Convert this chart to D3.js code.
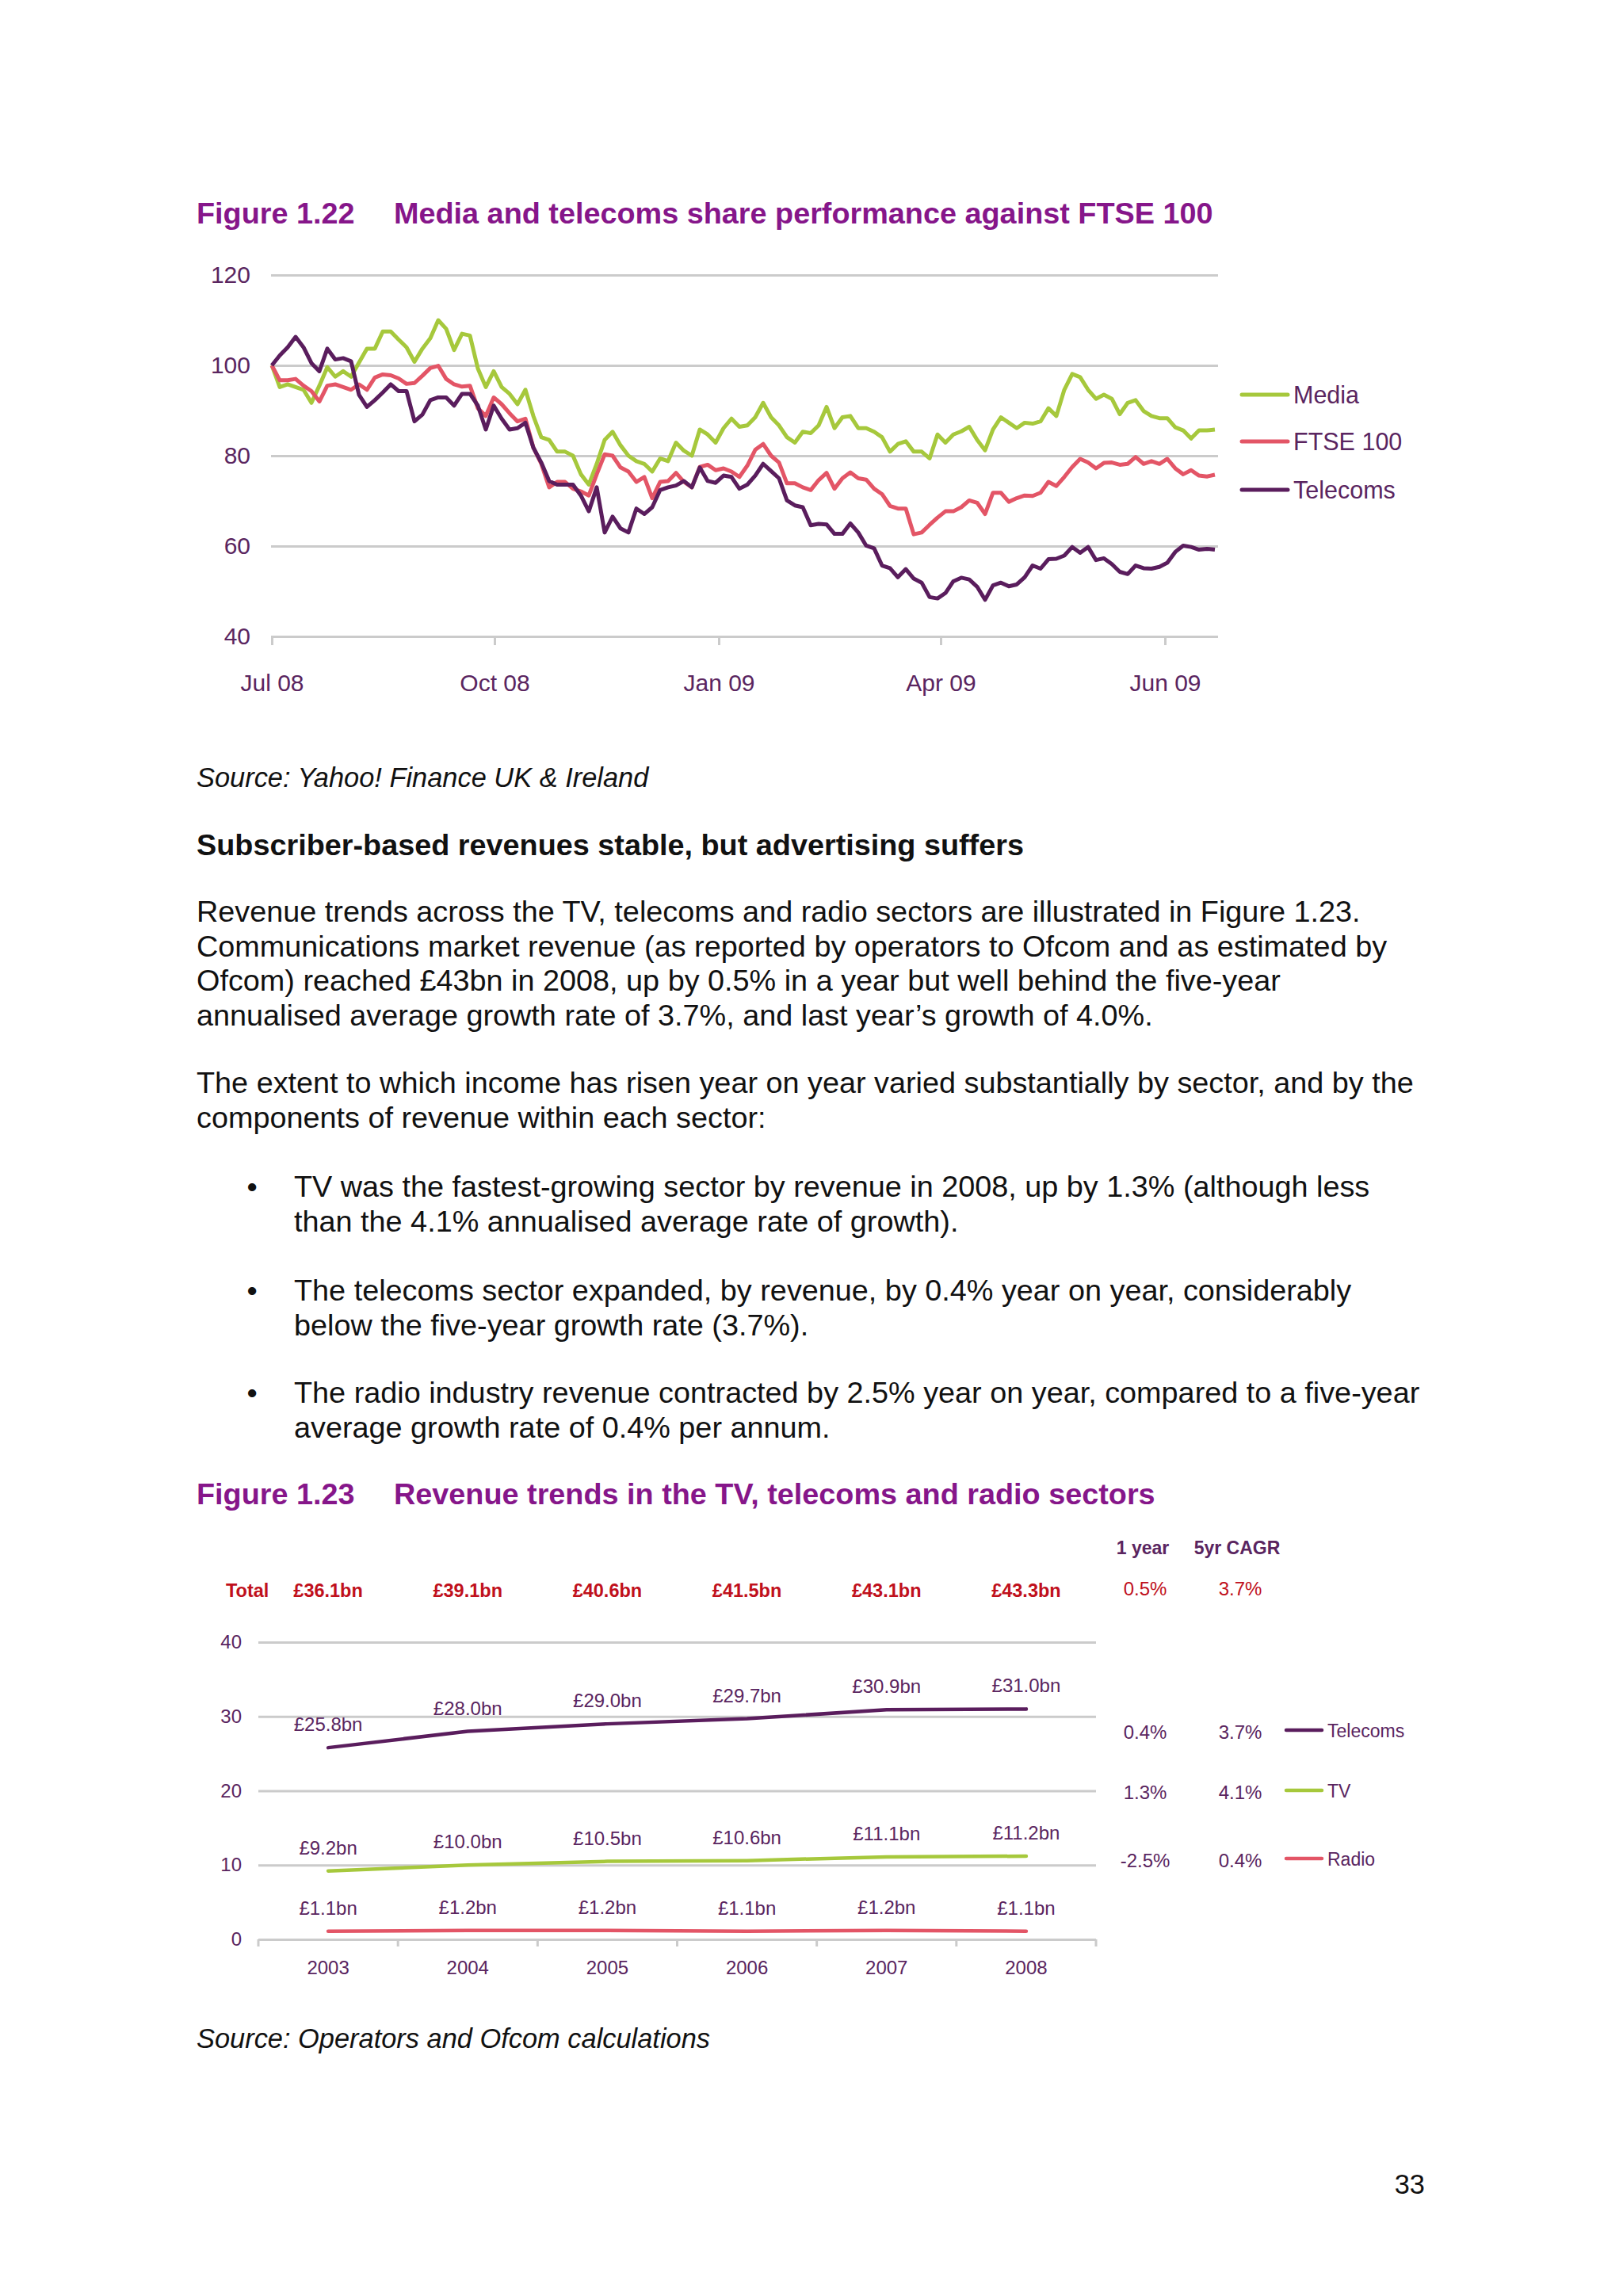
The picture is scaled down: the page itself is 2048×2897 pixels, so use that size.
<!DOCTYPE html>
<html>
<head>
<meta charset="utf-8">
<script src="https://cdn.jsdelivr.net/npm/d3@7"></script>
<style>
    body { margin: 0; background: #ffffff; }
    svg { display: block; font-family: Arial, "Liberation Sans", sans-serif; }
</style>
</head>
<body>
<div id="page"></div>
<script>
// ---- Figure 1.22 : share index, sampled points from Jul 08 to end Jun 09
var shareTickLabels = ["Jul 08", "Oct 08", "Jan 09", "Apr 09", "Jun 09"];
var shareTickAt = [0, 28.1, 56.4, 84.4, 112.7];
var shareYTicks = [40, 60, 80, 100, 120];

var media = [100, 95.2, 95.8, 95.2, 94.6, 91.7, 95.5, 99.6, 97.5, 98.7, 97.5, 100.6, 103.7, 103.7, 107.5, 107.5, 105.7, 104.0, 100.8, 103.7, 106.0, 110.0, 108.1, 103.4, 107.0, 106.6, 99.3, 95.2, 98.7, 95.2,
    93.7, 91.4, 94.6, 88.8, 84.1, 83.5, 80.9, 80.9, 80.0, 75.9, 73.6, 78.2, 83.5, 85.3, 82.3, 80.0, 78.8, 78.2, 76.5, 79.4, 78.8, 82.9, 81.1, 80.0, 85.8, 84.7, 82.9, 86.1, 88.2, 86.4,
    86.7, 88.5, 91.7, 88.5, 86.7, 84.1, 82.9, 85.3, 85.0, 86.7, 90.8, 86.1, 88.5, 88.8, 86.1, 86.1, 85.3, 84.1, 80.9, 82.6, 83.2, 80.9, 80.9, 79.4, 84.7, 82.9, 84.7, 85.4, 86.4, 83.5,
    81.2, 85.8, 88.5, 87.3, 86.1, 87.3, 87.1, 87.6, 90.5, 88.8, 94.6, 98.1, 97.4, 94.6, 92.6, 93.5, 92.6, 89.2, 91.7, 92.3, 89.9, 88.8, 88.3, 88.3, 86.3, 85.6, 83.8, 85.6, 85.6, 85.8];

var ftse = [100, 96.7, 96.7, 97.0, 95.5, 94.3, 92.0, 95.5, 95.8, 95.2, 94.6, 95.8, 94.6, 97.3, 98.0, 97.8, 97.1, 95.9, 96.1, 97.7, 99.4, 99.9, 97.0, 95.8, 95.3, 95.5, 90.5, 88.8, 92.9, 91.4,
    89.4, 87.6, 88.2, 81.8, 78.2, 73.0, 74.2, 74.2, 72.7, 72.1, 71.2, 75.9, 80.3, 80.0, 77.4, 76.5, 74.2, 75.3, 70.6, 74.2, 74.4, 76.2, 74.2, 73.0, 77.5, 78.0, 76.8, 77.2, 76.5, 75.3,
    77.8, 81.3, 82.6, 80.0, 78.5, 73.9, 73.9, 73.0, 72.4, 74.6, 76.2, 72.7, 75.0, 76.3, 75.0, 74.7, 72.7, 71.5, 68.9, 68.3, 68.3, 62.6, 63.0, 64.7, 66.3, 67.7, 67.7, 68.6, 70.1, 69.6,
    67.1, 71.8, 71.8, 69.8, 70.6, 71.2, 71.1, 71.8, 74.2, 73.3, 75.3, 77.5, 79.3, 78.5, 77.2, 78.4, 78.5, 78.0, 78.2, 79.7, 78.2, 78.8, 78.2, 79.3, 77.2, 75.9, 76.8, 75.6, 75.4, 75.8];

var telecoms = [100, 102.2, 104.0, 106.3, 104.0, 100.5, 98.7, 103.7, 101.3, 101.6, 100.9, 93.5, 90.8, 92.3, 94.0, 95.8, 94.3, 94.3, 87.6, 89.1, 92.3, 92.9, 92.9, 91.1, 93.7, 93.7, 91.1, 85.8, 91.1, 88.2,
    85.8, 86.1, 87.3, 81.8, 78.5, 74.4, 73.6, 73.6, 73.6, 71.2, 67.7, 73.0, 63.0, 66.5, 63.9, 63.0, 68.3, 67.1, 68.6, 72.4, 73.0, 73.4, 74.4, 73.0, 77.4, 74.4, 74.0, 75.6, 75.3, 72.7,
    73.6, 75.6, 78.2, 76.6, 75.0, 70.1, 69.0, 68.6, 64.6, 64.9, 64.8, 62.7, 62.7, 65.0, 63.0, 60.1, 59.5, 55.7, 55.1, 53.1, 54.9, 52.8, 51.9, 48.7, 48.4, 49.6, 52.2, 53.0, 52.6, 51.0,
    48.1, 51.3, 51.9, 51.1, 51.5, 53.1, 55.7, 55.0, 57.1, 57.2, 57.9, 59.8, 58.5, 59.8, 56.9, 57.3, 56.0, 54.3, 53.8, 55.7, 55.1, 55.0, 55.4, 56.3, 58.7, 60.1, 59.8, 59.2, 59.4, 59.2];

var shareSeries = ["Media", "FTSE 100", "Telecoms"];

// ---- Figure 1.23 : revenue, £bn
var years = ["2003", "2004", "2005", "2006", "2007", "2008"];
var revTelecoms = [25.8, 28.0, 29.0, 29.7, 30.9, 31.0];
var revTV = [9.2, 10.0, 10.5, 10.6, 11.1, 11.2];
var revRadio = [1.1, 1.2, 1.2, 1.1, 1.2, 1.1];
var revTotal = [36.1, 39.1, 40.6, 41.5, 43.1, 43.3];
var revYTicks = [0, 10, 20, 30, 40];
var growthNames = ["Total", "Telecoms", "TV", "Radio"];
var growth1yr = [0.5, 0.4, 1.3, -2.5];
var growthCagr = [3.7, 3.7, 4.1, 0.4];

// ---- body text
var heading = "Subscriber-based revenues stable, but advertising suffers";
var para1 = ["Revenue trends across the TV, telecoms and radio sectors are illustrated in Figure 1.23.",
    "Communications market revenue (as reported by operators to Ofcom and as estimated by",
    "Ofcom) reached £43bn in 2008, up by 0.5% in a year but well behind the five-year",
    "annualised average growth rate of 3.7%, and last year\u2019s growth of 4.0%."];
var para2 = ["The extent to which income has risen year on year varied substantially by sector, and by the",
    "components of revenue within each sector:"];
var bullets = [
    ["TV was the fastest-growing sector by revenue in 2008, up by 1.3% (although less",
        "than the 4.1% annualised average rate of growth)."],
    ["The telecoms sector expanded, by revenue, by 0.4% year on year, considerably",
        "below the five-year growth rate (3.7%)."],
    ["The radio industry revenue contracted by 2.5% year on year, compared to a five-year",
        "average growth rate of 0.4% per annum."]];

var TITLE = "#86168a", AXIS_TXT = "#5a2560", GRID = "#cbcbcb", RED = "#c0101c";
var GREEN = "#a6c83c", PINK = "#e35566", PLUM = "#5a1d5d";

var W = 2048, H = 2897;
var svg = d3.select("#page").append("svg").attr("width", W).attr("height", H)
    .attr("viewBox", "0 0 " + W + " " + H);
svg.append("rect").attr("width", W).attr("height", H).attr("fill", "#ffffff");

function txt(x, y, s, size, opts) {
    opts = opts || {};
    return svg.append("text").attr("x", x).attr("y", y).text(s)
        .attr("font-size", size)
        .attr("font-weight", opts.bold ? "bold" : null)
        .attr("font-style", opts.italic ? "italic" : null)
        .attr("text-anchor", opts.anchor || "start")
        .attr("fill", opts.fill || "#111111");
}

// =============== Figure 1.22 ===============
txt(248, 282, "Figure 1.22", 37.8, { bold: true, fill: TITLE });
txt(497, 282, "Media and telecoms share performance against FTSE 100", 37.8, { bold: true, fill: TITLE });

var sx = d3.scaleLinear().domain([0, media.length - 1]).range([343, 1533]);
var sy = d3.scaleLinear().domain([40, 120]).range([803, 347]);
var gridL = 342, gridR = 1537;

var yAx = svg.append("g").attr("transform", "translate(" + gridL + ",0)")
    .call(d3.axisLeft(sy).tickValues(shareYTicks).tickSize(-(gridR - gridL)).tickPadding(26));
yAx.select(".domain").remove();
yAx.selectAll("line").attr("stroke", GRID).attr("stroke-width", 3);
yAx.selectAll("text").attr("font-size", 30).attr("fill", AXIS_TXT).attr("font-family", null);

var xAx = svg.append("g").attr("transform", "translate(0," + sy(40) + ")")
    .call(d3.axisBottom(sx).tickValues(shareTickAt).tickSize(11).tickPadding(37)
        .tickFormat(function (d, i) { return shareTickLabels[i]; }));
xAx.select(".domain").remove();
xAx.selectAll("line").attr("stroke", GRID).attr("stroke-width", 3);
xAx.selectAll("text").attr("font-size", 30).attr("fill", AXIS_TXT).attr("font-family", null);

var shareLine = d3.line().x(function (d, i) { return sx(i); }).y(function (d) { return sy(d); });
[[media, GREEN], [ftse, PINK], [telecoms, PLUM]].forEach(function (s) {
    svg.append("path").attr("d", shareLine(s[0])).attr("fill", "none")
        .attr("stroke", s[1]).attr("stroke-width", 5).attr("stroke-linejoin", "round");
});

var legY = [498, 557, 618];
[GREEN, PINK, PLUM].forEach(function (c, i) {
    svg.append("line").attr("x1", 1567).attr("x2", 1625).attr("y1", legY[i]).attr("y2", legY[i])
        .attr("stroke", c).attr("stroke-width", 5).attr("stroke-linecap", "round");
    txt(1632, legY[i] + 11, shareSeries[i], 30.5, { fill: AXIS_TXT });
});

txt(248, 993, "Source: Yahoo! Finance UK & Ireland", 34.4, { italic: true });

// =============== body text ===============
txt(248, 1079, heading, 37.8, { bold: true });
para1.forEach(function (s, i) { txt(248, 1163 + i * 43.6, s, 37.8); });
para2.forEach(function (s, i) { txt(248, 1379 + i * 43.6, s, 37.8); });
var bulletTop = [1510, 1641, 1770];
bullets.forEach(function (b, j) {
    txt(318, bulletTop[j], "\u2022", 37.8, { anchor: "middle" });
    b.forEach(function (s, i) { txt(371, bulletTop[j] + i * 43.6, s, 37.8); });
});

// =============== Figure 1.23 ===============
txt(248, 1898, "Figure 1.23", 37.8, { bold: true, fill: TITLE });
txt(497, 1898, "Revenue trends in the TV, telecoms and radio sectors", 37.8, { bold: true, fill: TITLE });

var rx = d3.scaleBand().domain(years).range([326, 1383]);
var ry = d3.scaleLinear().domain([0, 40]).range([2447, 2072]);
var cx = function (d) { return rx(d) + rx.bandwidth() / 2; };

var ryAx = svg.append("g").attr("transform", "translate(326,0)")
    .call(d3.axisLeft(ry).tickValues(revYTicks).tickSize(-(1383 - 326)).tickPadding(21));
ryAx.select(".domain").remove();
ryAx.selectAll("line").attr("stroke", GRID).attr("stroke-width", 3);
ryAx.selectAll("text").attr("font-size", 24).attr("fill", AXIS_TXT).attr("font-family", null);

var rxAx = svg.append("g").attr("transform", "translate(0," + ry(0) + ")")
    .call(d3.axisBottom(rx).tickSize(0).tickPadding(27));
rxAx.select(".domain").remove();
rxAx.selectAll("text").attr("font-size", 24).attr("fill", AXIS_TXT).attr("font-family", null);
// tick marks on the category boundaries
svg.append("g").selectAll("line").data(years.concat(["end"])).enter().append("line")
    .attr("x1", function (d) { return d === "end" ? rx.range()[1] : rx(d); })
    .attr("x2", function (d) { return d === "end" ? rx.range()[1] : rx(d); })
    .attr("y1", ry(0)).attr("y2", ry(0) + 9)
    .attr("stroke", GRID).attr("stroke-width", 3);

var revLine = d3.line().x(function (d, i) { return cx(years[i]); }).y(function (d) { return ry(d); });
[[revTelecoms, PLUM], [revTV, GREEN], [revRadio, PINK]].forEach(function (s) {
    svg.append("path").attr("d", revLine(s[0])).attr("fill", "none")
        .attr("stroke", s[1]).attr("stroke-width", 4.5).attr("stroke-linecap", "round")
        .attr("stroke-linejoin", "round");
    svg.append("g").selectAll("text").data(s[0]).enter().append("text")
        .attr("x", function (d, i) { return cx(years[i]); })
        .attr("y", function (d) { return ry(d) - 21; })
        .attr("text-anchor", "middle").attr("font-size", 24).attr("fill", AXIS_TXT)
        .text(function (d) { return "£" + d.toFixed(1) + "bn"; });
});

// totals row
txt(285, 2015, "Total", 23.5, { bold: true, fill: RED });
svg.append("g").selectAll("text").data(revTotal).enter().append("text")
    .attr("x", function (d, i) { return cx(years[i]); }).attr("y", 2015)
    .attr("text-anchor", "middle").attr("font-size", 23.5).attr("font-weight", "bold")
    .attr("fill", RED).text(function (d) { return "£" + d.toFixed(1) + "bn"; });

// growth table + legend
txt(1442, 1961, "1 year", 23, { bold: true, fill: AXIS_TXT, anchor: "middle" });
txt(1561, 1961, "5yr CAGR", 23, { bold: true, fill: AXIS_TXT, anchor: "middle" });
var rowY = [2004, 2185, 2261, 2347];
var legColor = [null, PLUM, GREEN, PINK];
growthNames.forEach(function (n, i) {
    var c = i === 0 ? RED : AXIS_TXT;
    txt(1445, rowY[i] + 8.5, growth1yr[i].toFixed(1) + "%", 24, { fill: c, anchor: "middle" });
    txt(1565, rowY[i] + 8.5, growthCagr[i].toFixed(1) + "%", 24, { fill: c, anchor: "middle" });
    if (i > 0) {
        svg.append("line").attr("x1", 1623).attr("x2", 1668).attr("y1", rowY[i] - 2).attr("y2", rowY[i] - 2)
            .attr("stroke", legColor[i]).attr("stroke-width", 4.5).attr("stroke-linecap", "round");
        txt(1675, rowY[i] + 7, n, 23, { fill: AXIS_TXT });
    }
});

txt(248, 2584, "Source: Operators and Ofcom calculations", 34.4, { italic: true });

txt(1798, 2768, "33", 34.4, { anchor: "end" });
</script>
</body>
</html>
